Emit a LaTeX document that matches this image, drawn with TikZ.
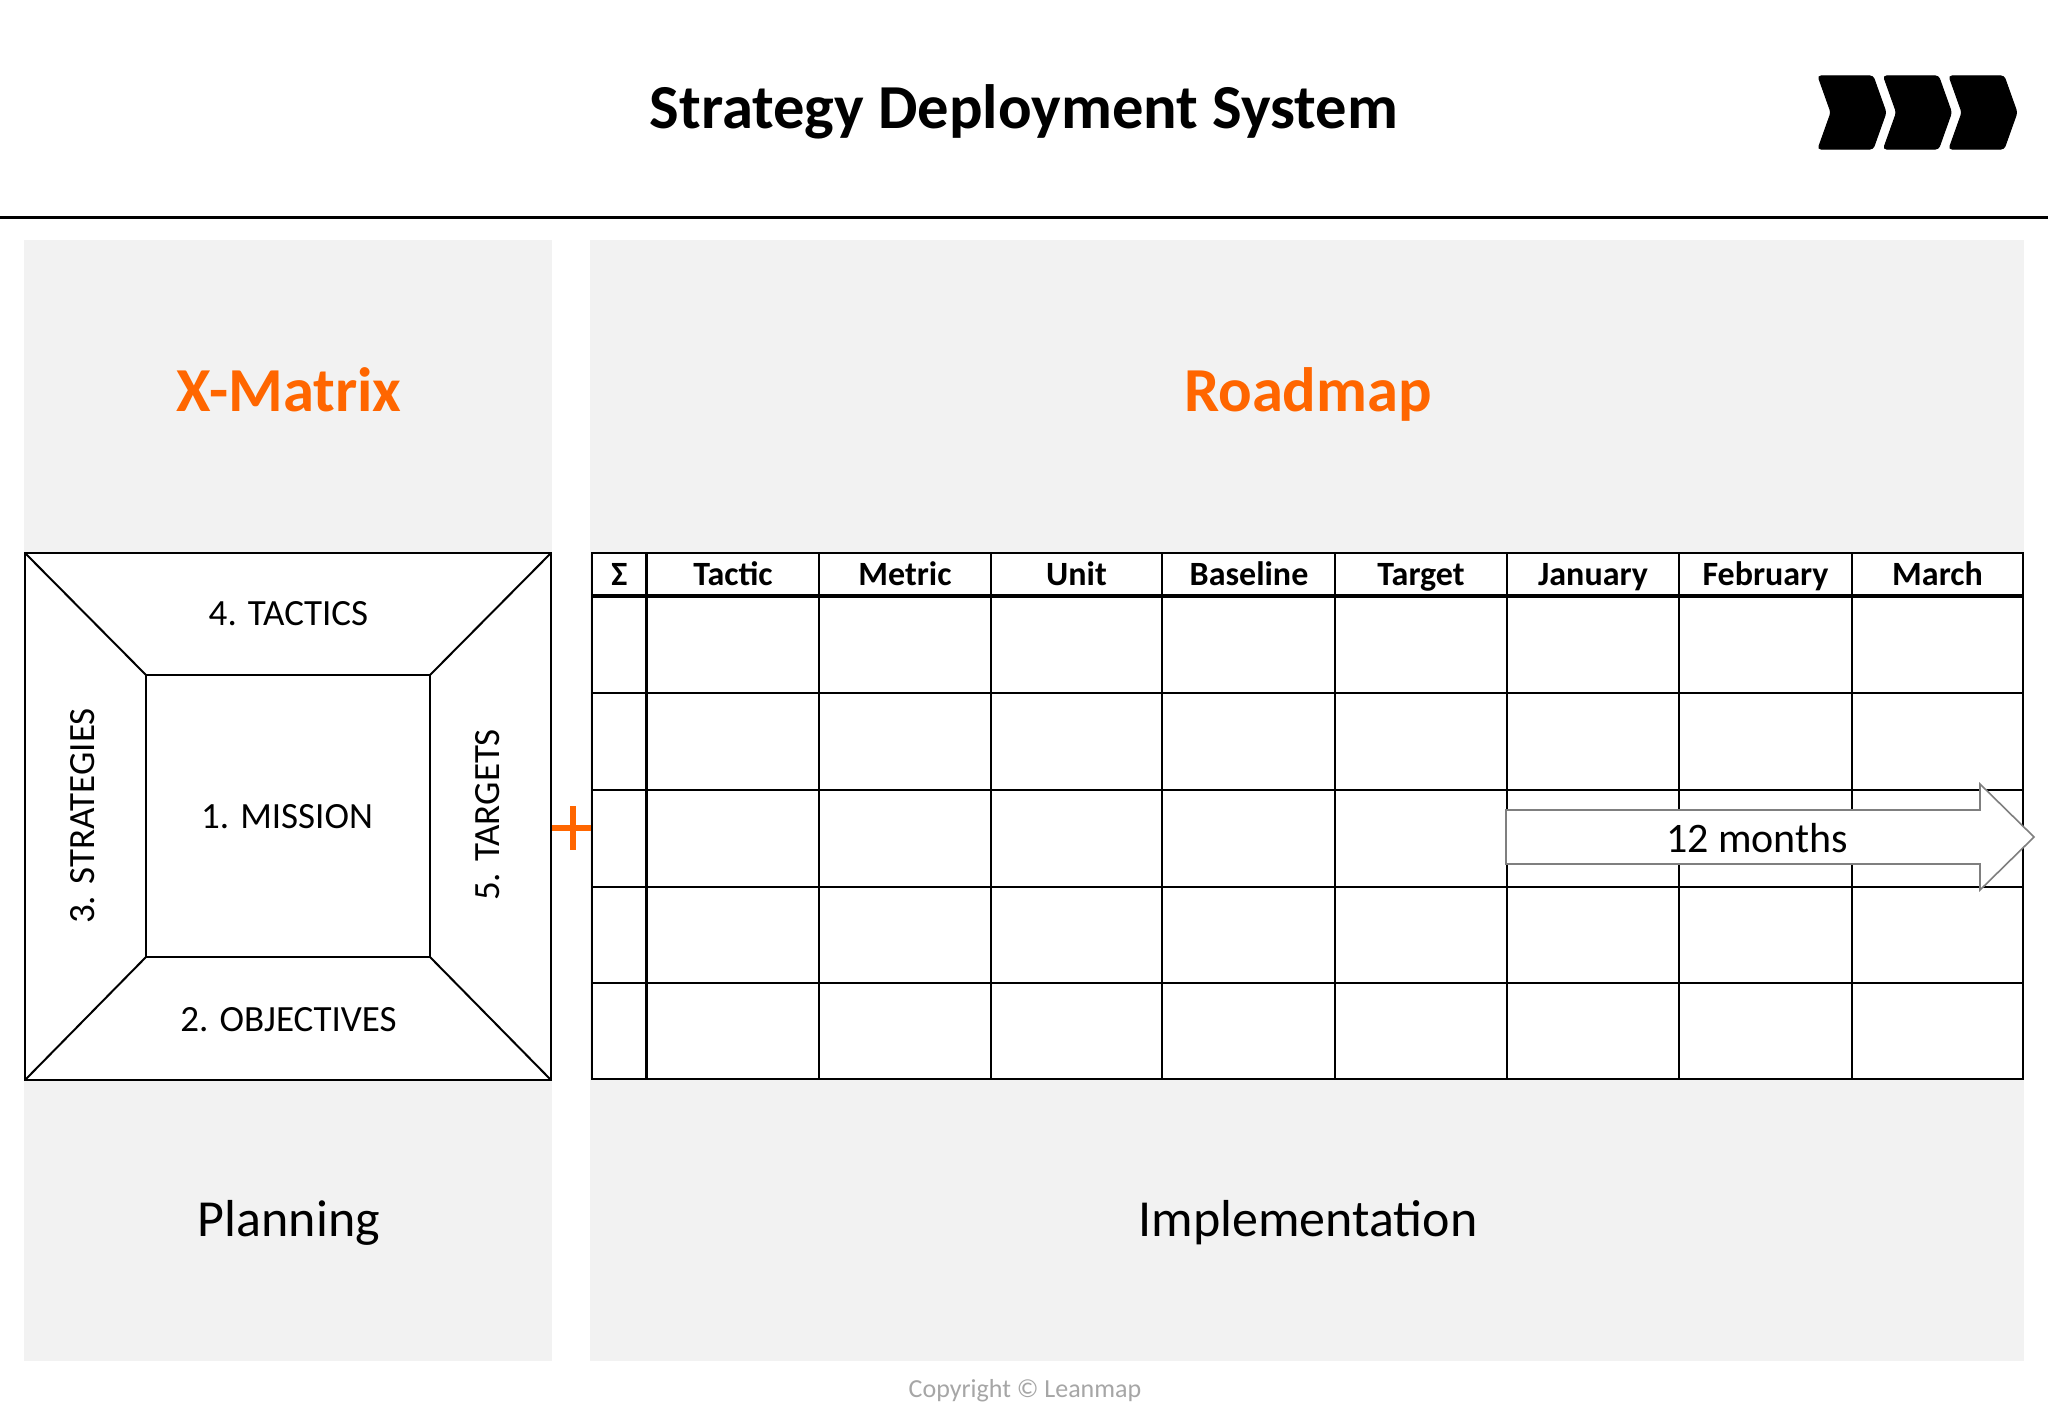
\documentclass[tikz,border=0pt]{standalone}
\usepackage{fontspec}
\setmainfont{Carlito}
\definecolor{panelgray}{HTML}{F2F2F2}
\definecolor{accent}{RGB}{255,102,0}
\definecolor{copygray}{HTML}{A6A6A6}
\definecolor{arrowgray}{HTML}{7F7F7F}
\begin{document}
\begin{tikzpicture}[x=0.5pt,y=-0.5pt,
  titletext/.style={anchor=base,inner sep=0pt,font=\fontsize{31.3}{36}\selectfont\bfseries},
  headtext/.style={anchor=base,inner sep=0pt,text=accent,font=\fontsize{31.3}{36}\selectfont\bfseries},
  foottext/.style={anchor=base,inner sep=0pt,font=\fontsize{26}{30}\selectfont},
  xmtext/.style={inner sep=0pt,font=\fontsize{18.5}{22}\selectfont},
  coltext/.style={anchor=base,inner sep=0pt,font=\fontsize{17}{20}\selectfont\bfseries},
  panel/.style={fill=panelgray,draw=none},
  gridline/.style={line width=1.2pt,draw=black},
  chev/.style={fill=black,draw=black,line width=0.5pt,rounded corners=1.5pt}
]
\useasboundingbox (0,0) rectangle (2048,1418);
\fill[white] (0,0) rectangle (2048,1418);

% title and logo
\node[titletext] (title) at (1024,128) {Strategy Deployment System};
\foreach \k in {0,1,2}{
  \fill[chev,xshift=\k*32.75pt] (1818,76) -- (1873,76) -- (1886,112.5) -- (1873,149) -- (1818,149) -- (1831,112.5) -- cycle;
}
\coordinate (ruleL) at (0,217);
\coordinate (ruleR) at (2048,217);
\draw[line width=1.5pt] (ruleL) -- (ruleR);

% panels
\path[panel] (24,240) rectangle (552,1361);
\path[panel] (590,240) rectangle (2024,1361);

\node[headtext] (xmhead) at (289,411) {X-Matrix};
\node[headtext] (rmhead) at (1308,411) {Roadmap};
\node[foottext] (plan) at (289,1236) {Planning};
\node[foottext] (impl) at (1308,1236) {Implementation};

% X-Matrix
\coordinate (o1) at (25,553);
\coordinate (o2) at (551,553);
\coordinate (o3) at (551,1080);
\coordinate (o4) at (25,1080);
\coordinate (i1) at (146,675);
\coordinate (i2) at (430,675);
\coordinate (i3) at (430,957);
\coordinate (i4) at (146,957);
\fill[white] (o1) rectangle (o3);
\draw[line width=1pt] (o1) -- (i1) (o2) -- (i2) (o3) -- (i3) (o4) -- (i4);
\draw[line width=1pt] (i1) rectangle (i3);
\draw[line width=1.4pt] (o1) rectangle (o3);
\node[xmtext,anchor=base] (tact) at (288.5,625.5) {4. TACTICS};
\node[xmtext,anchor=base] (miss) at (287,828) {1. MISSION};
\node[xmtext,anchor=base] (obj) at (288.5,1031) {2. OBJECTIVES};
\node[xmtext,rotate=90] (strat) at (83,816) {3. STRATEGIES};
\node[xmtext,rotate=90] (targ) at (487.5,815) {5. TARGETS};

% plus
\draw[accent,line width=3pt] (573,806) -- (573,850);
\draw[accent,line width=3pt] (552,828) -- (591,828);

% table
\fill[white] (592,553) rectangle (2023,1079);
\foreach \y in {693,790,887,983}{
  \draw[gridline] (592,\y) -- (2023,\y);
}
\foreach \x in {646.5,819,991,1162,1335,1507,1679,1852}{
  \draw[gridline] (\x,553) -- (\x,1079);
}
\draw[line width=2.2pt] (592,596) -- (2023,596);
\draw[line width=1.4pt] (592,553) rectangle (2023,1079);

\node[coltext] (csig) at (619.25,585) {Σ};
\node[coltext] (c1) at (733,585) {Tactic};
\node[coltext] (c2) at (905,585) {Metric};
\node[coltext] (c3) at (1076.5,585) {Unit};
\node[coltext] (c4) at (1249,585) {Baseline};
\node[coltext] (c5) at (1421,585) {Target};
\node[coltext] (c6) at (1593,585) {January};
\node[coltext] (c7) at (1765.5,585) {February};
\node[coltext] (c8) at (1937.5,585) {March};

% 12 months arrow
\draw[fill=white,draw=arrowgray,line width=0.8pt] (1506,810) -- (1980,810) -- (1980,784) -- (2034,837) -- (1980,890) -- (1980,864) -- (1506,864) -- cycle;
\node[anchor=base,inner sep=0pt,font=\fontsize{21}{25}\selectfont] (months) at (1757,852) {12 months};

% copyright
\node[anchor=base,inner sep=0pt,text=copygray,font=\fontsize{13}{16}\selectfont] (copy) at (1025,1397) {Copyright © Leanmap};
\end{tikzpicture}
\end{document}
